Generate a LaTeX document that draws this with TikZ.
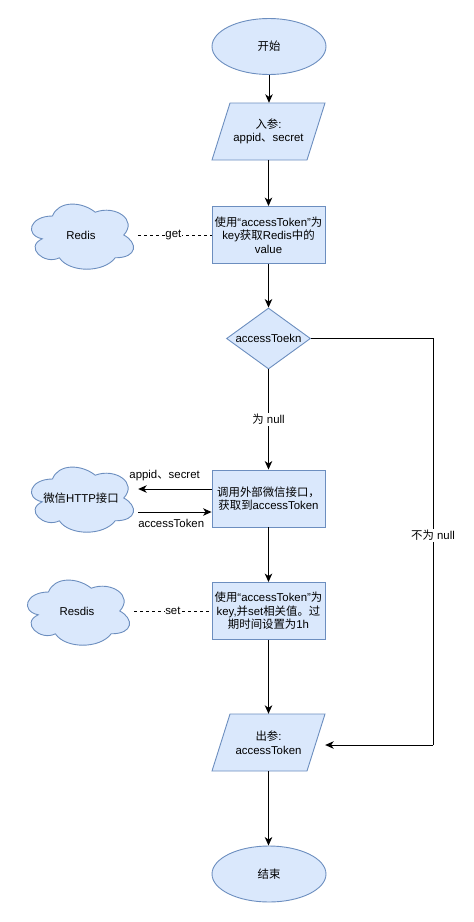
\documentclass[tikz,border=0pt]{standalone}
\usepackage{fontspec}
\setmainfont{Liberation Sans}
\newfontfamily\cjk{Noto Sans CJK SC}
\usetikzlibrary{shapes.geometric,arrows.meta}
\definecolor{boxfill}{HTML}{DAE8FC}
\definecolor{boxline}{HTML}{6C8EBF}
\tikzset{
  base/.style={font=\fontsize{11.4}{13.5}\selectfont, align=center, inner sep=0pt},
  shp/.style={base, draw=boxline, fill=boxfill, line width=0.9pt},
  term/.style={shp, ellipse, minimum width=114, minimum height=56},
  procbox/.style={shp, rectangle, minimum width=113, minimum height=57},
  decide/.style={shp, diamond, aspect=1.38, minimum width=84, minimum height=61},
  iotext/.style={base, minimum width=113, minimum height=57},
  cloudtext/.style={base, minimum width=114, minimum height=76},
  flow/.style={draw=black, line width=1pt, -{Stealth[length=8.5pt,width=7.5pt,inset=2.5pt]}},
  plainline/.style={draw=black, line width=1pt},
  dashline/.style={draw=black, line width=0.8pt, dash pattern=on 3pt off 3pt},
  lbl/.style={base, fill=white, inner sep=1pt},
}
% draw.io cloud in box (x0,y0) size (w,h), y downward
\newcommand{\drawiocloud}[4]{%
  \begin{scope}[shift={(#1,#2)}, x=#3pt, y=-#4pt]
    \draw[draw=boxline, fill=boxfill, line width=0.9pt]
      (0.25,0.25) .. controls (0.05,0.25) and (0,0.5) .. (0.16,0.55)
      .. controls (0,0.66) and (0.18,0.9) .. (0.31,0.8)
      .. controls (0.4,1) and (0.7,1) .. (0.8,0.8)
      .. controls (1,0.8) and (1,0.6) .. (0.875,0.5)
      .. controls (1,0.3) and (0.8,0.1) .. (0.625,0.2)
      .. controls (0.5,0.05) and (0.3,0.05) .. (0.25,0.25) -- cycle;
  \end{scope}}
% parallelogram in box (x0,y0)-(x1,y1), offset 18
\newcommand{\drawiopara}[4]{%
  \draw[draw=boxline, fill=boxfill, line width=0.9pt]
    (#1,#4) -- (#1+18,#2) -- (#3,#2) -- (#3-18,#4) -- cycle;}
\begin{document}
\begin{tikzpicture}[x=1pt,y=-1pt]
\useasboundingbox (0,0) rectangle (474,922);

% start
\node[term] (start) at (269,46.5) {\cjk 开始};

% input
\drawiopara{212}{103}{325}{160}
\node[iotext] (in) at (268.5,131.5) {{\cjk 入参}:\\appid{\cjk 、}secret};

% read redis
\node[procbox] (r1) at (268.5,235) {{\cjk 使用}“accessToken”{\cjk 为}\\key{\cjk 获取}Redis{\cjk 中的}\\value};
\drawiocloud{24}{197}{114}{76}
\node[cloudtext] (redis) at (81,235) {Redis};

% decision
\node[decide] (dec) at (268.5,338.5) {accessToekn};

% call wechat
\node[procbox] (r2) at (268.5,498.5) {{\cjk 调用外部微信接口，}\\{\cjk 获取到}accessToken};
\drawiocloud{24}{460}{114}{76}
\node[cloudtext] (wx) at (81,498) {{\cjk 微信}HTTP{\cjk 接口}};

% set redis
\node[procbox] (r3) at (268.5,611) {{\cjk 使用}“accessToken”{\cjk 为}\\key,{\cjk 并}set{\cjk 相关值。过}\\{\cjk 期时间设置为}1h};
\drawiocloud{20}{573}{114}{76}
\node[cloudtext] (resdis) at (77,611) {Resdis};

% output
\drawiopara{212}{714}{325}{771}
\node[iotext] (out) at (268.5,742.5) {{\cjk 出参}:\\accessToken};

% end
\node[term] (end) at (269,874) {\cjk 结束};

% main flow
\draw[flow] (start) -- (start |- in.north);
\draw[flow] (in) -- (r1);
\draw[flow] (r1) -- (dec);
\draw[flow] (dec) -- node[lbl, pos=0.5] {{\cjk 为} null} (r2);
\draw[flow] (r2) -- (r3);
\draw[flow] (r3) -- (out);
\draw[flow] (out) -- (end.north -| out);

% not null branch
\coordinate (c1) at (433,338.5);
\coordinate (c2) at (433,745);
\draw[plainline] (dec.east) -- (c1) -- node[lbl, pos=0.485] {{\cjk 不为} null} (c2);
\draw[flow] (c2) -- (out.east |- c2);

% redis get/set
\draw[dashline] (redis.east) -- node[lbl, pos=0.48, inner sep=0.3pt] {get} (r1.west);
\draw[dashline] (resdis.east |- r3.west) -- node[lbl, pos=0.5, inner sep=0.3pt] {set} (r3.west);

% wechat calls
\draw[flow] ([yshift=9.5pt]r2.west) -- ([yshift=9.5pt]r2.west -| wx.east)
  node[base, pos=0.64, above=8pt] {appid{\cjk 、}secret};
\draw[flow] ([yshift=-13.5pt]r2.west -| wx.east) -- ([yshift=-13.5pt]r2.west)
  node[base, pos=0.45, below=7pt] {accessToken};
\end{tikzpicture}
\end{document}
